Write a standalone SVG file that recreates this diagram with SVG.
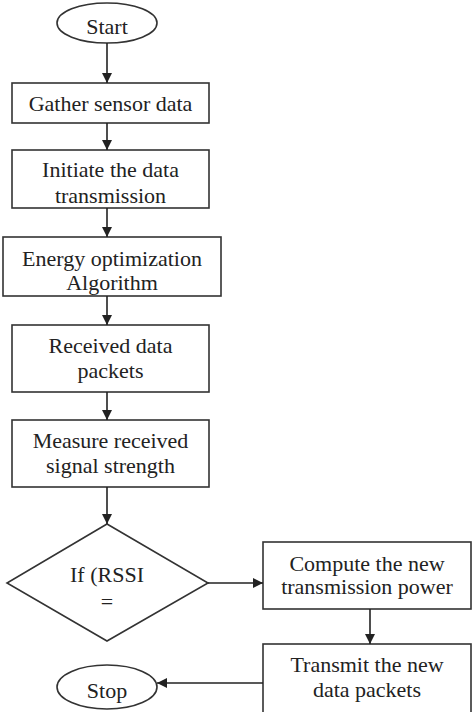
<svg xmlns="http://www.w3.org/2000/svg" width="474" height="712" viewBox="0 0 474 712">
<defs>
<marker id="ah" viewBox="0 0 10 10" refX="10" refY="5" markerWidth="11" markerHeight="10" markerUnits="userSpaceOnUse" orient="auto">
<path d="M0,0 L10,5 L0,10 Z" fill="#222"/>
</marker>
</defs>
<style>
.s{fill:#fff;stroke:#333;stroke-width:1.6}
.t{font-family:"Liberation Serif","Times New Roman",serif;font-size:22px;fill:#222;text-anchor:middle}
.c{stroke:#222;stroke-width:1.6;fill:none;marker-end:url(#ah)}
</style>
<rect width="474" height="712" fill="#fff"/>
<g id="start"><ellipse class="s" cx="107" cy="23" rx="50" ry="20"/><text class="t" x="107" y="34">Start</text></g>
<g id="gather"><rect class="s" x="12" y="83" width="197" height="40"/><text class="t" x="110.5" y="111">Gather sensor data</text></g>
<g id="initiate"><rect class="s" x="12" y="150" width="197" height="58"/><text class="t" x="110.5" y="177">Initiate the data</text><text class="t" x="110.5" y="203">transmission</text></g>
<g id="energy"><rect class="s" x="3" y="237" width="218" height="59"/><text class="t" x="112" y="266">Energy optimization</text><text class="t" x="112" y="290">Algorithm</text></g>
<g id="received"><rect class="s" x="12" y="325" width="197" height="67"/><text class="t" x="110.5" y="353">Received data</text><text class="t" x="110.5" y="378">packets</text></g>
<g id="measure"><rect class="s" x="12" y="420" width="197" height="67"/><text class="t" x="110.5" y="448">Measure received</text><text class="t" x="110.5" y="473">signal strength</text></g>
<g id="decision"><polygon class="s" points="107,524 208,583 107,641 7,583"/><text class="t" x="107" y="582">If (RSSI</text><text class="t" x="107" y="609">=</text></g>
<g id="compute"><rect class="s" x="263" y="542" width="208" height="67"/><text class="t" x="367" y="571">Compute the new</text><text class="t" x="367" y="594">transmission power</text></g>
<g id="transmit"><rect class="s" x="263" y="644" width="208" height="72"/><text class="t" x="367" y="672">Transmit the new</text><text class="t" x="367" y="697">data packets</text></g>
<g id="stop"><ellipse class="s" cx="107" cy="687" rx="50" ry="22"/><text class="t" x="107" y="698">Stop</text></g>
<g id="connectors">
<line class="c" x1="107" y1="43" x2="107" y2="83"/>
<line class="c" x1="107" y1="123" x2="107" y2="150"/>
<line class="c" x1="107" y1="208" x2="107" y2="237"/>
<line class="c" x1="107" y1="296" x2="107" y2="325"/>
<line class="c" x1="107" y1="392" x2="107" y2="420"/>
<line class="c" x1="107" y1="487" x2="107" y2="524"/>
<line class="c" x1="208" y1="583" x2="263" y2="583"/>
<line class="c" x1="370" y1="609" x2="370" y2="644"/>
<line class="c" x1="263" y1="683" x2="157" y2="683"/>
</g>
</svg>
